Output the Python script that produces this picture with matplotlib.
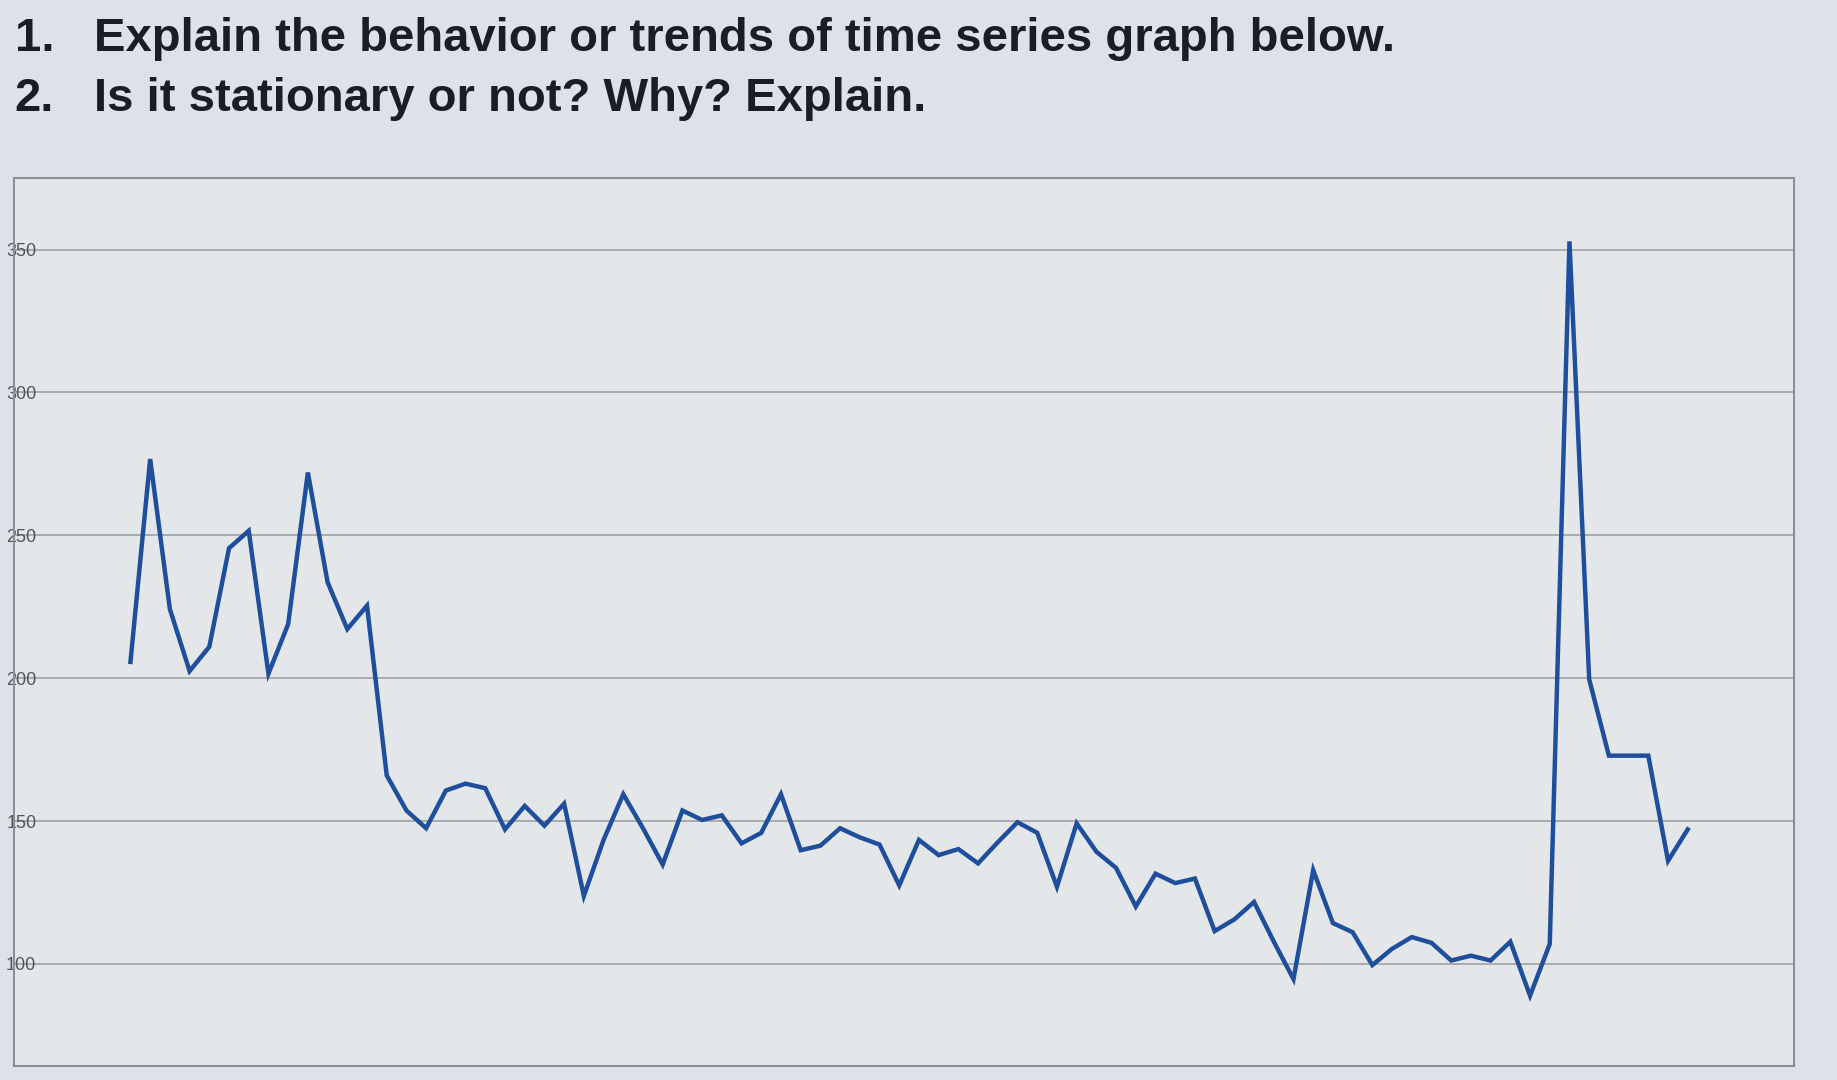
import matplotlib
matplotlib.use('Agg')
import matplotlib.pyplot as plt

# values
values = [205.7, 276.7, 224.2, 202.5, 211.0, 245.5, 251.6, 201.6, 218.9, 272.0,
          233.6, 217.2, 225.4, 166.0, 153.7, 147.5, 160.7, 163.1, 161.5, 147.1,
          155.3, 148.4, 156.1, 123.8, 143.4, 159.4, 147.5, 134.8, 153.7, 150.4,
          152.0, 142.2, 145.9, 159.4, 139.8, 141.4, 147.5, 144.3, 141.8, 127.5,
          143.4, 138.1, 140.2, 135.2, 142.6, 149.6, 145.9, 127.0, 149.2, 139.3,
          133.6, 120.1, 131.6, 128.3, 129.9, 111.5, 115.6, 121.7, 107.8, 94.7,
          132.8, 114.3, 111.1, 99.6, 105.3, 109.4, 107.4, 101.2, 102.9, 101.2,
          107.8, 88.9, 107.0, 352.9, 199.6, 172.9, 172.9, 172.9, 136.1, 147.1]
yticks = [100, 150, 200, 250, 300, 350]
ytick_labels = ['100', '150', '200', '250', '300', '350']
numbers = ['1.', '2.']
questions = ['Explain the behavior or trends of time series graph below.',
             'Is it stationary or not? Why? Explain.']

plt.rcParams['font.family'] = ['Liberation Sans', 'DejaVu Sans']

fig = plt.figure(figsize=(18.37, 10.8), dpi=100)
fig.patch.set_facecolor('#dde2e8')

for yy, num, q in zip([0.964, 0.908], numbers, questions):
    fig.text(0.008, yy, num, fontsize=34, fontweight='bold',
             color='#1c1c24', va='center')
    fig.text(0.051, yy, q, fontsize=34, fontweight='bold',
             color='#1c1c24', va='center')

ax = fig.add_axes([0.0077, 0.013, 0.969, 0.822])
ax.set_facecolor('#e4e7ea')
x = list(range(len(values)))
ax.plot(x, values, color='#1f4f9c', lw=3.2, solid_joinstyle='miter')

ax.set_xlim(-5.9, 84.4)
ax.set_ylim(64.3, 375)
ax.set_yticks(yticks)
ax.set_yticklabels(ytick_labels, color='#555555', fontsize=13)
ax.tick_params(axis='y', length=0, pad=-16)
ax.set_xticks([])
ax.grid(axis='y', color='#a9acaf', lw=1.4)
for s in ax.spines.values():
    s.set_color('#8c9096')
    s.set_linewidth(1.5)

plt.savefig('out.png', dpi=100, facecolor=fig.get_facecolor())
plt.close(fig)
